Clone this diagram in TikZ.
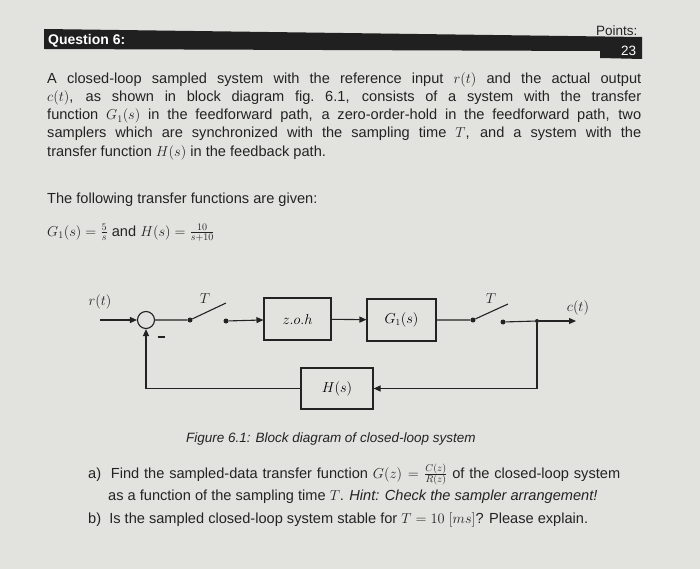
\documentclass[tikz,border=0pt]{standalone}
\usepackage{fontspec}
\setmainfont{Liberation Sans}
\usetikzlibrary{arrows.meta}
\definecolor{pg}{RGB}{226,226,223}
\definecolor{ink}{RGB}{35,35,35}
\tikzset{x=1pt,y=-1pt,
 blk/.style={draw=ink,line width=1.1pt,fill=pg},
 ln/.style={draw=ink,line width=1.1pt},
 arr/.style={ln,-{Triangle[length=7pt,width=6pt]}},
 dot/.style={circle,fill=ink,inner sep=0pt,minimum size=5pt},
 txt/.style={anchor=base west,inner sep=0pt,text=ink,font=\fontsize{14.6}{17}\selectfont},
 lbl/.style={inner sep=0pt,text=ink,font=\fontsize{13.5}{15}\selectfont}}
\newcommand{\jl}[1]{\makebox[594pt][s]{#1}}
\begin{document}
\begin{tikzpicture}
\useasboundingbox (0,0) rectangle (700,569);
\fill[pg] (0,0) rectangle (700,569);
% header
\fill[ink!90!black] (44,29) -- (642,37) -- (642,59) -- (600,58) -- (600,51) -- (44,49) -- cycle;
\node[txt,text=white,font=\fontsize{14}{16}\selectfont\bfseries] (q) at (48,45) {Question 6:};
\node[txt,font=\fontsize{13.5}{15}\selectfont] (pts) at (596,36) {Points:};
\node[txt,text=white,font=\fontsize{13.5}{15}\selectfont] (np) at (621,56) {23};
% paragraph
\node[txt] (l1) at (47,84) {\jl{A closed-loop sampled system with the reference input $r(t)$ and the actual output}};
\node[txt] (l2) at (47,102) {\jl{$c(t)$, as shown in block diagram fig.\ 6.1, consists of a system with the transfer}};
\node[txt] (l3) at (47,120) {\jl{function $G_1(s)$ in the feedforward path, a zero-order-hold in the feedforward path, two}};
\node[txt] (l4) at (47,138) {\jl{samplers which are synchronized with the sampling time $T$, and a system with the}};
\node[txt] (l5) at (47,157) {transfer function $H(s)$ in the feedback path.};
\node[txt] (l6) at (47,204) {The following transfer functions are given:};
\node[txt] (l7) at (47,236) {$G_1(s)=\frac{5}{s}$ and $H(s)=\frac{10}{s+10}$};
% diagram
\node[circle,draw=ink,line width=1.1pt,minimum size=17pt,inner sep=0pt,fill=pg] (sum) at (146,320) {};
\coordinate (in) at (100,320);
\node[lbl] (r) at (100,302) {$r(t)$};
\node[dot] (s1a) at (190,320) {};
\node[dot] (s1b) at (226,321) {};
\coordinate (s1t) at (226,303);
\node[lbl] (T1) at (205,299) {$T$};
\node[blk,minimum width=67pt,minimum height=42pt] (zoh) at (297.5,319) {\fontsize{13.5}{15}\selectfont $z.o.h$};
\node[blk,minimum width=69pt,minimum height=42pt] (g1) at (401.5,320) {\fontsize{13.5}{15}\selectfont $G_1(s)$};
\node[dot] (s2a) at (473,320) {};
\node[dot] (s2b) at (503,322) {};
\coordinate (s2t) at (508,304);
\node[lbl] (T2) at (491,299) {$T$};
\node[dot,minimum size=4pt] (br) at (537,321) {};
\coordinate (out) at (576,321);
\node[lbl] (c) at (578,308) {$c(t)$};
\node[blk,minimum width=72pt,minimum height=41pt] (h) at (337,388.5) {\fontsize{13.5}{15}\selectfont $H(s)$};
\node[lbl] (m) at (161,337) {\rule{7pt}{2.2pt}};
\draw[arr] (in) -- (sum);
\draw[ln] (sum) -- (s1a) -- (s1t);
\draw[arr] (s1b) -- (zoh);
\draw[arr] (zoh) -- (g1);
\draw[ln] (g1) -- (s2a) -- (s2t);
\draw[ln] (s2b) -- (br);
\draw[arr] (br) -- (out);
\draw[arr] (br) |- (h);
\draw[arr] (h) -| (sum);
% caption & questions
\node[txt,font=\fontsize{13.5}{15}\selectfont\itshape] (cap) at (186,442) {Figure 6.1: Block diagram of closed-loop system};
\node[txt] (a1) at (88,478) {\makebox[532pt][s]{a)\ \ Find the sampled-data transfer function $G(z)=\frac{C(z)}{R(z)}$ of the closed-loop system}};
\node[txt] (a2) at (108,500) {as a function of the sampling time $T$. \emph{Hint: Check the sampler arrangement!}};
\node[txt] (b1) at (88,523) {b)\ \ Is the sampled closed-loop system stable for $T=10\ [ms]$? Please explain.};
\end{tikzpicture}
\end{document}
